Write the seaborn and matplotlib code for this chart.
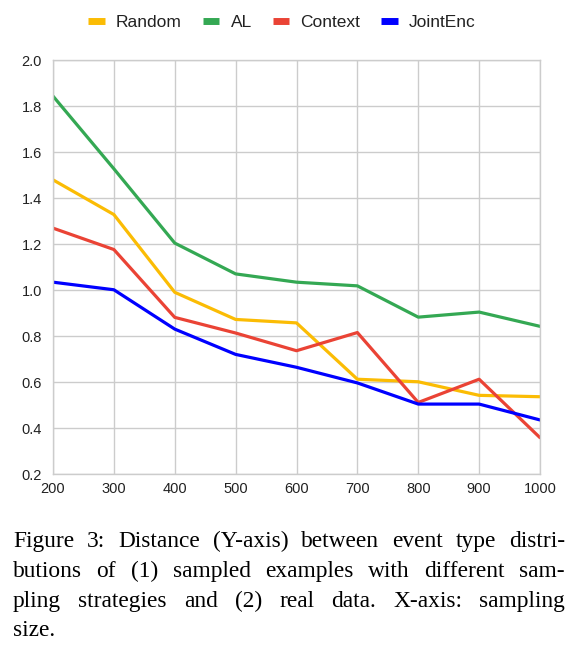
import matplotlib
matplotlib.use("Agg")
import matplotlib.pyplot as plt
import seaborn as sns
import pandas as pd

sizes = [200, 300, 400, 500, 600, 700, 800, 900, 1000]
random_vals = [1.479, 1.328, 0.99, 0.872, 0.857, 0.612, 0.601, 0.542, 0.536]
al_vals = [1.843, 1.527, 1.204, 1.07, 1.034, 1.018, 0.882, 0.904, 0.842]
context_vals = [1.269, 1.176, 0.881, 0.813, 0.736, 0.815, 0.511, 0.612, 0.358]
joint_vals = [1.034, 1.001, 0.83, 0.72, 0.664, 0.596, 0.504, 0.504, 0.435]
series_names = ["Random", "AL", "Context", "JointEnc"]
colors = ["#fbbc04", "#34a853", "#ea4335", "#0000ff"]
y_ticks = [0.2, 0.4, 0.6, 0.8, 1.0, 1.2, 1.4, 1.6, 1.8, 2.0]

caption_lines = [
    "Figure 3: Distance (Y-axis) between event type distri-",
    "butions of (1) sampled examples with different sam-",
    "pling strategies and (2) real data.  X-axis: sampling",
    "size.",
]

rows = []
for name, vals in zip(series_names, [random_vals, al_vals, context_vals, joint_vals]):
    for s, v in zip(sizes, vals):
        rows.append({"size": s, "dist": v, "method": name})
df = pd.DataFrame(rows)

sns.set_style("white")
plt.rcParams["font.family"] = ["Liberation Sans", "DejaVu Sans"]

W, H = 582, 652
fig = plt.figure(figsize=(W / 100, H / 100), dpi=100)
ax = fig.add_axes([53 / W, 1 - 474 / H, (540 - 53) / W, (474 - 60) / H])

sns.lineplot(data=df, x="size", y="dist", hue="method", hue_order=series_names,
             palette=colors, linewidth=2.3, ax=ax, legend=True)

ax.set_xlim(200, 1000)
ax.set_ylim(0.2, 2.0)
ax.set_xticks(sizes)
ax.set_yticks(y_ticks)
ax.set_xticklabels([str(s) for s in sizes])
ax.set_yticklabels([f"{t:.1f}" for t in y_ticks])
ax.set_xlabel("")
ax.set_ylabel("")
ax.grid(True, color="#cccccc", linewidth=1)
ax.set_axisbelow(True)
for sp in ax.spines.values():
    sp.set_color("#cccccc")
    sp.set_linewidth(1)
ax.tick_params(axis="both", length=0, labelsize=10.5, labelcolor="#222222")
ax.tick_params(axis="x", pad=6)
ax.tick_params(axis="y", pad=8)

handles, labels = ax.get_legend_handles_labels()
ax.get_legend().remove()
for h in handles:
    h.set_linewidth(5)
    h.set_solid_capstyle("butt")
fig.legend(handles, labels, loc="center", bbox_to_anchor=(282 / W, 1 - 22 / H),
           ncol=4, frameon=False, fontsize=12.5, handlelength=0.95,
           handletextpad=0.65, columnspacing=1.2, labelcolor="#222222")

# justified caption
fig.canvas.draw()
renderer = fig.canvas.get_renderer()
left, right = 13, 565
baselines = [547, 577, 607, 636]
cap_size = 16.8
for i, (line, base) in enumerate(zip(caption_lines, baselines)):
    words = line.split()
    y = 1 - base / H
    if i == len(caption_lines) - 1:
        fig.text(left / W, y, line, family="Liberation Serif", fontsize=cap_size,
                 va="baseline", ha="left", color="black")
        continue
    texts = [fig.text(0, y, w, family="Liberation Serif", fontsize=cap_size,
                      va="baseline", ha="left", color="black") for w in words]
    widths = [t.get_window_extent(renderer).width for t in texts]
    gap = (right - left - sum(widths)) / (len(words) - 1)
    x = left
    for t, w in zip(texts, widths):
        t.set_x(x / W)
        x += w + gap

fig.savefig("out.png", dpi=100)
